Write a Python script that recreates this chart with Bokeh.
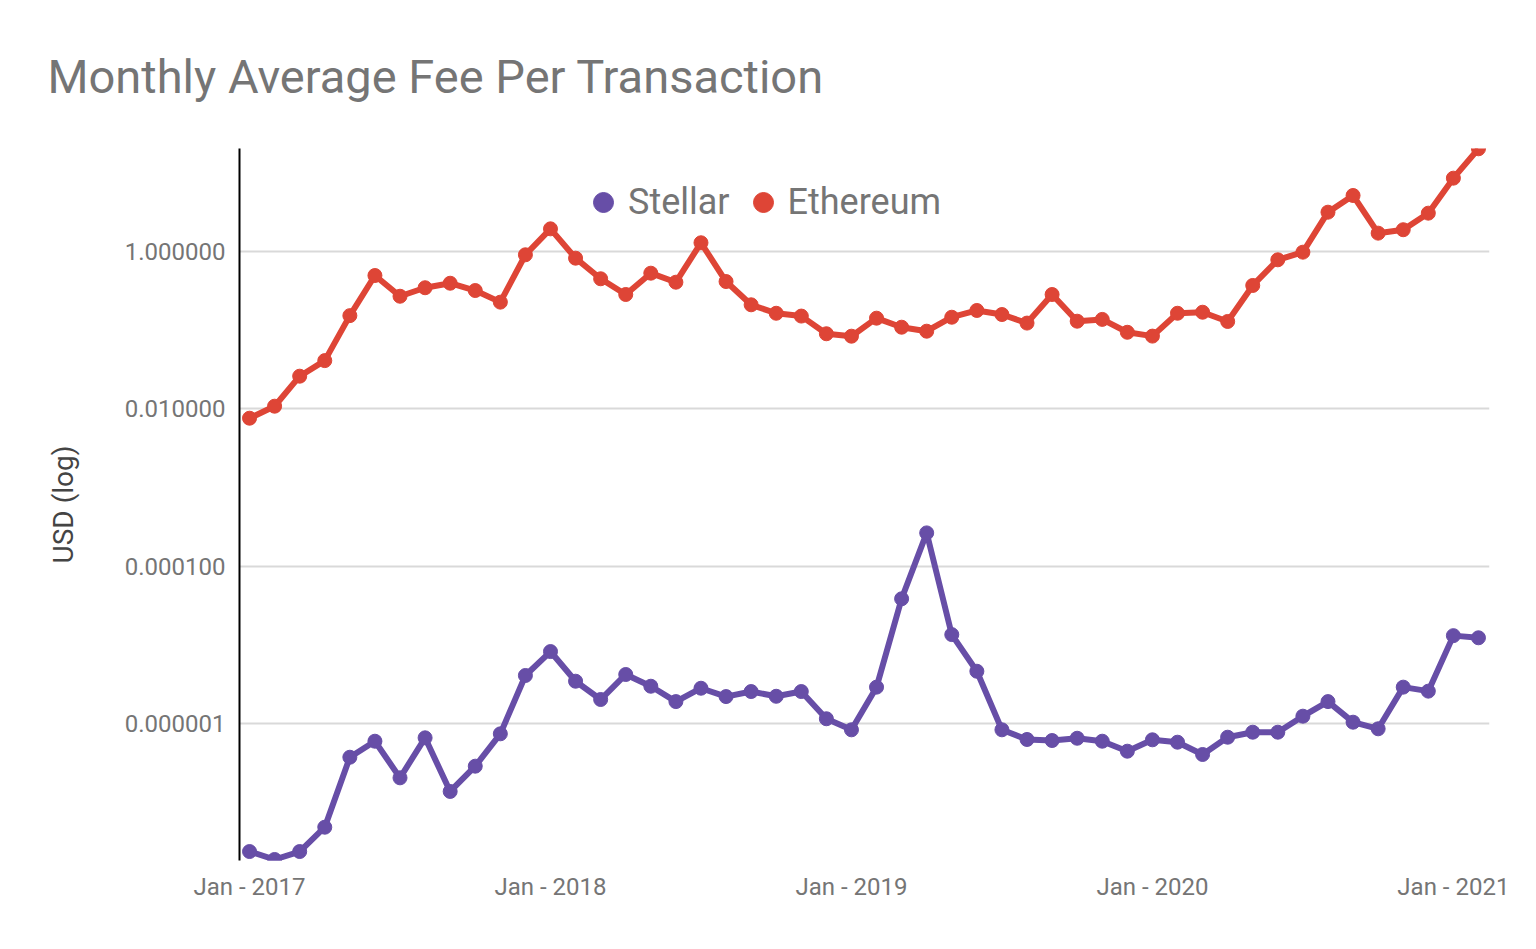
from bokeh.plotting import figure
from bokeh.models import Range1d, FixedTicker, PrintfTickFormatter, Legend, LegendItem
from bokeh.embed import file_html
from bokeh.resources import INLINE

# Month index 0 = Jan 2017 ... 49 = Feb 2021
months = list(range(50))

stellar = [2.36e-8, 1.87e-8, 2.36e-8, 4.81e-8, 3.73e-7, 5.96e-7, 2.04e-7, 6.58e-7, 1.37e-7, 2.87e-7,
           7.40e-7, 4.08e-6, 8.22e-6, 3.45e-6, 2.02e-6, 4.20e-6, 2.98e-6, 1.90e-6, 2.81e-6, 2.20e-6,
           2.55e-6, 2.22e-6, 2.55e-6, 1.15e-6, 8.32e-7, 2.90e-6, 3.85e-5, 2.65e-4, 1.35e-5, 4.62e-6,
           8.32e-7, 6.27e-7, 6.08e-7, 6.50e-7, 5.96e-7, 4.45e-7, 6.21e-7, 5.79e-7, 4.04e-7, 6.70e-7,
           7.76e-7, 7.76e-7, 1.24e-6, 1.90e-6, 1.04e-6, 8.57e-7, 2.90e-6, 2.58e-6, 1.31e-5, 1.23e-5]

ethereum = [0.0076, 0.0108, 0.026, 0.041, 0.153, 0.495, 0.270, 0.346, 0.395, 0.319,
            0.227, 0.908, 1.94, 0.822, 0.450, 0.284, 0.530, 0.407, 1.29, 0.415,
            0.210, 0.164, 0.151, 0.090, 0.0838, 0.142, 0.109, 0.097, 0.146, 0.178,
            0.158, 0.123, 0.284, 0.130, 0.137, 0.094, 0.084, 0.164, 0.169, 0.129,
            0.370, 0.784, 0.98, 3.16, 5.15, 1.71, 1.89, 3.07, 8.55, 20.2]

x_tick_positions = [0, 12, 24, 36, 48]
x_tick_labels = ["Jan - 2017", "Jan - 2018", "Jan - 2019", "Jan - 2020", "Jan - 2021"]
y_ticks = [1e-6, 1e-4, 1e-2, 1.0]

STELLAR_COLOR = "#674EA7"
ETH_COLOR = "#DE4536"
TEXT_GRAY = "#757575"

p = figure(width=1536, height=949, y_axis_type="log",
           x_range=Range1d(-0.4, 49.44), y_range=Range1d(10 ** -7.741, 10 ** 1.309),
           output_backend="svg", toolbar_location=None,
           min_border_left=239, min_border_right=47, min_border_top=148, min_border_bottom=89)

p.title.text = "Monthly Average Fee Per Transaction"
p.title.text_font = "Roboto"
p.title.text_font_size = "47px"
p.title.text_font_style = "normal"
p.title.text_color = TEXT_GRAY
p.title.align = "left"
p.title.offset = -192
p.title.standoff = 89

p.outline_line_color = None
p.background_fill_color = "white"
p.border_fill_color = "white"

# x axis
p.xaxis.ticker = FixedTicker(ticks=x_tick_positions)
p.xaxis.major_label_overrides = {t: l for t, l in zip(x_tick_positions, x_tick_labels)}
p.xaxis.axis_line_color = None
p.xaxis.major_tick_line_color = None
p.xaxis.minor_tick_line_color = None
p.xaxis.major_tick_out = 0
p.xaxis.major_tick_in = 0
p.xaxis.major_label_text_font = "Roboto"
p.xaxis.major_label_text_font_size = "24px"
p.xaxis.major_label_text_color = TEXT_GRAY
p.xaxis.major_label_standoff = 12
p.xgrid.grid_line_color = None

# y axis
p.yaxis.ticker = FixedTicker(ticks=y_ticks)
p.yaxis.formatter = PrintfTickFormatter(format="%.6f")
p.yaxis.axis_line_color = "black"
p.yaxis.axis_line_width = 2
p.yaxis.major_tick_line_color = None
p.yaxis.minor_tick_line_color = None
p.yaxis.major_tick_out = 0
p.yaxis.major_tick_in = 0
p.yaxis.major_label_text_font = "Roboto"
p.yaxis.major_label_text_font_size = "24px"
p.yaxis.major_label_text_color = TEXT_GRAY
p.yaxis.major_label_standoff = 14
p.yaxis.axis_label = "USD (log)"
p.yaxis.axis_label_text_font = "Roboto"
p.yaxis.axis_label_text_font_size = "28px"
p.yaxis.axis_label_text_font_style = "normal"
p.yaxis.axis_label_text_color = "#444444"
p.yaxis.axis_label_standoff = 42
p.ygrid.ticker = FixedTicker(ticks=y_ticks)
p.ygrid.grid_line_color = "#D9D9D9"
p.ygrid.grid_line_width = 2

# series
p.line(months, stellar, line_color=STELLAR_COLOR, line_width=6, line_join="round")
s_pts = p.scatter(months, stellar, size=14, fill_color=STELLAR_COLOR, line_color=STELLAR_COLOR)
p.line(months, ethereum, line_color=ETH_COLOR, line_width=6, line_join="round")
e_pts = p.scatter(months, ethereum, size=14, fill_color=ETH_COLOR, line_color=ETH_COLOR)

legend = Legend(items=[LegendItem(label="Stellar", renderers=[s_pts]),
                       LegendItem(label="Ethereum", renderers=[e_pts])],
                orientation="horizontal", location=(339, 633),
                glyph_width=50, glyph_height=50, label_standoff=-2, spacing=8,
                padding=0, margin=0,
                label_text_font="Roboto", label_text_font_size="36px", label_text_color=TEXT_GRAY,
                border_line_color=None, background_fill_alpha=0)
p.add_layout(legend, "center")

open("out.html", "w").write(file_html(p, INLINE))
